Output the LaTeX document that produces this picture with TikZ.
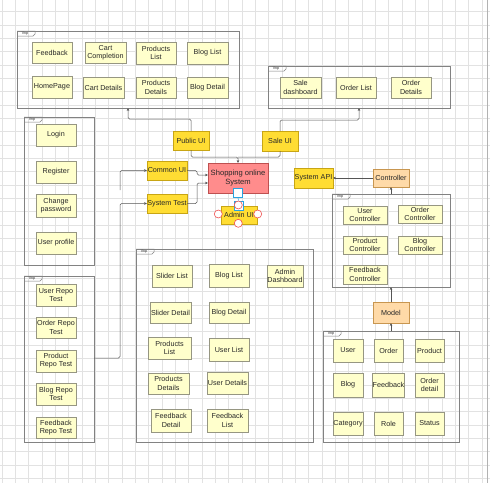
\documentclass[tikz,border=0pt]{standalone}
\usepackage{fontspec}
\setmainfont{Liberation Sans}
\usetikzlibrary{arrows.meta}
\definecolor{gridc}{RGB}{226,226,226}
\definecolor{lyfill}{RGB}{255,255,204}
\definecolor{lydraw}{RGB}{150,150,130}
\definecolor{yfill}{RGB}{255,221,51}
\definecolor{ydraw}{RGB}{200,165,20}
\definecolor{rfill}{RGB}{255,140,140}
\definecolor{rdraw}{RGB}{190,80,80}
\definecolor{ofill}{RGB}{255,218,168}
\definecolor{odraw}{RGB}{200,150,80}
\definecolor{framec}{RGB}{130,130,130}
\definecolor{connc}{RGB}{85,85,85}
\definecolor{txtc}{RGB}{40,40,40}
\definecolor{selblue}{RGB}{41,163,224}
\definecolor{selred}{RGB}{240,80,80}
\newcommand{\mybox}[6][lbox]{\node[#1,minimum width={(#4)-(#2)},minimum height={(#5)-(#3)}] (#6) at ({((#2)+(#4))/2},{((#3)+(#5))/2})}
\begin{document}
\begin{tikzpicture}[x=1pt,y=-1pt,
  base/.style={rectangle,inner sep=0pt,outer sep=0pt,align=center,text=txtc,font=\fontsize{7.2}{8.2}\selectfont},
  lbox/.style={base,draw=lydraw,fill=lyfill,line width=0.6pt},
  ybox/.style={base,draw=ydraw,fill=yfill,line width=0.6pt},
  rbox/.style={base,draw=rdraw,fill=rfill,line width=0.6pt,font=\fontsize{7.6}{8.8}\selectfont},
  obox/.style={base,draw=odraw,fill=ofill,line width=0.6pt},
  frame/.style={rectangle,draw=framec,line width=0.6pt,inner sep=0pt,outer sep=0pt},
  tabline/.style={draw=framec,line width=0.5pt},
  tablbl/.style={inner sep=0pt,font=\fontsize{3.6}{4}\selectfont,text=txtc},
  conn/.style={draw=connc,line width=0.5pt,rounded corners=1.5pt,-{Stealth[length=3pt,width=2.6pt]}},
  plain/.style={draw=connc,line width=0.5pt,rounded corners=1.5pt},
  selsq/.style={rectangle,draw=selblue,fill=white,line width=0.7pt,minimum size=9pt,inner sep=0pt},
  selc/.style={circle,draw=selred,fill=white,line width=0.6pt,minimum size=8pt,inner sep=0pt},
  selline/.style={draw=selblue,line width=0.5pt}]
\useasboundingbox (0,0) rectangle (490,483);
\fill[white] (0,0) rectangle (490,483);
\foreach \k in {0,...,36} \draw[gridc,line width=0.5pt] ({2+13.333*\k},0) -- ({2+13.333*\k},483);
\foreach \k in {0,...,37} \draw[gridc,line width=0.5pt] (0,{-1.63+13.333*\k}) -- (490,{-1.63+13.333*\k});
\draw[black!30,line width=0.6pt] (487.5,0) -- (487.5,483);

% frames
\mybox[frame]{17}{31}{239}{108}{f1} {};
\mybox[frame]{268}{66}{450}{108}{f2} {};
\mybox[frame]{24}{117}{94}{265}{f3} {};
\mybox[frame]{24}{276}{94}{442}{f4} {};
\mybox[frame]{332}{194}{450}{287}{f5} {};
\mybox[frame]{136}{249}{313}{442}{f6} {};
\mybox[frame]{323}{331}{459}{442}{f7} {};
\foreach \f in {f1,f2,f3,f4,f5,f6,f7}{
  \draw[tabline] (\f.north west) -- ++(18,0) -- ++(0,3) -- ++(-2,2) -- ++(-16,0);
  \node[tablbl] at ([shift={(8,2.6)}]\f.north west) {Vnp};
}

% top-left group
\mybox{32}{42}{72}{63}{fb} {Feedback};
\mybox{85}{42}{126}{63}{cc} {Cart\\Completion};
\mybox{136}{42}{176}{64}{pl} {Products\\List};
\mybox{187}{42}{228}{64}{bl} {Blog List};
\mybox{32}{76}{72}{98}{hp} {HomePage};
\mybox{83}{77}{124}{98}{cd} {Cart Details};
\mybox{136}{77}{176}{98}{pd} {Products\\Details};
\mybox{187}{77}{228}{98}{bd} {Blog Detail};

% top-right group
\mybox{280}{77}{321}{98}{sd} {Sale\\dashboard};
\mybox{336}{77}{376}{98}{ol} {Order List};
\mybox{391}{77}{431}{98}{od} {Order\\Details};

% center
\mybox[ybox]{173}{131}{209}{150}{pubui} {Public UI};
\mybox[ybox]{262}{131}{298}{151}{saleui} {Sale UI};
\mybox[rbox]{208}{163}{268}{193}{shop} {Shopping online\\System};
\mybox[ybox]{147}{161}{187}{180}{cui} {Common UI};
\mybox[ybox]{147}{194}{187}{213}{stest} {System Test};
\mybox[ybox]{294}{168}{333}{188}{sapi} {System API};
\mybox[ybox]{221}{206}{257}{224}{admin} {Admin UI};
\mybox[obox]{373}{169}{409}{187}{ctrl} {Controller};
\mybox[obox]{373}{302}{409}{323}{model} {Model};

% login group
\mybox{36}{124}{76}{146}{login} {Login};
\mybox{36}{161}{76}{183}{reg} {Register};
\mybox{36}{194}{76}{217}{chp} {Change\\password};
\mybox{36}{232}{76}{254}{upr} {User profile};

% repo test group
\mybox{36}{284}{76}{306}{urt} {User Repo\\Test};
\mybox{36}{317}{76}{338}{ort} {Order Repo\\Test};
\mybox{36}{350}{76}{372}{prt} {Product\\Repo Test};
\mybox{36}{383}{76}{405}{brt} {Blog Repo\\Test};
\mybox{36}{417}{76}{438}{frt} {Feedback\\Repo Test};

% admin group
\mybox{152}{265}{192}{287}{sl} {Slider List};
\mybox{209}{264}{249}{287}{bl2} {Blog List};
\mybox{267}{265}{303}{287}{ad} {Admin\\Dashboard};
\mybox{150}{302}{191}{323}{sld} {Slider Detail};
\mybox{209}{302}{249}{323}{bd2} {Blog Detail};
\mybox{148}{337}{191}{359}{pl2} {Products\\List};
\mybox{209}{338}{249}{361}{ul} {User List};
\mybox{148}{373}{189}{394}{pd2} {Products\\Details};
\mybox{207}{372}{248}{394}{ud} {User Details};
\mybox{151}{409}{191}{432}{fd} {Feedback\\Detail};
\mybox{207}{409}{248}{432}{fl} {Feedback\\List};

% controller group
\mybox{343}{206}{387}{224}{uc} {User\\Controller};
\mybox{398}{205}{442}{223}{oc} {Order\\Controller};
\mybox{343}{236}{387}{254}{pc} {Product\\Controller};
\mybox{398}{236}{442}{254}{bc} {Blog\\Controller};
\mybox{343}{265}{387}{284}{fc} {Feedback\\Controller};

% model group
\mybox{333}{339}{363}{362}{mu} {User};
\mybox{374}{339}{403}{362}{mo} {Order};
\mybox{415}{339}{444}{362}{mp} {Product};
\mybox{333}{373}{363}{397}{mb} {Blog};
\mybox{374}{373}{403}{397}{mf} {Feedback};
\mybox{415}{373}{444}{397}{mod} {Order\\detail};
\mybox{333}{412}{363}{435}{mc} {Category};
\mybox{374}{412}{403}{435}{mr} {Role};
\mybox{415}{412}{444}{435}{ms} {Status};

% connectors
\coordinate (j1) at (128,119);
\draw[conn] (pubui.north) |- (j1) -- (f1.south -| j1);
\coordinate (j2) at (359,120);
\draw[conn] (saleui.north) |- (j2) -- (f2.south -| j2);
\coordinate (j3) at (238,157);
\draw[conn] (pubui.south) |- (j3) -- (shop.north);
\draw[plain] (saleui.south) |- (j3);
\coordinate (j4) at (197,175);
\draw[conn] (cui.east) -| (j4) -- (shop.west |- j4);
\coordinate (j5) at (197,183);
\draw[conn] (stest.east) -| (j5) -- (shop.west |- j5);
\coordinate (j6) at (120,190);
\draw[conn] (j6) |- (cui.west);
\coordinate (j7) at (120,358);
\draw[conn] (f4.east |- j7) -- (j7) |- (stest.west);
\draw[conn] (ctrl.west) -- (sapi.east);
\draw[conn] (f5.north) -- (ctrl.south);
\draw[conn] (model.north) -- (f5.south);
\draw[conn] (f7.north) -- (model.south);

% selection handles
\node[selsq] (h1) at (238,193) {};
\node[selsq] (h2) at (238.5,205.5) {};
\draw[selline] (h1) -- (h2);
\node[selc] (c1) at (238.3,205) {};
\node[selc] (c2) at (218.3,214) {};
\node[selc] (c3) at (257.7,214) {};
\node[selc] (c4) at (238.3,223.3) {};
\end{tikzpicture}
\end{document}
